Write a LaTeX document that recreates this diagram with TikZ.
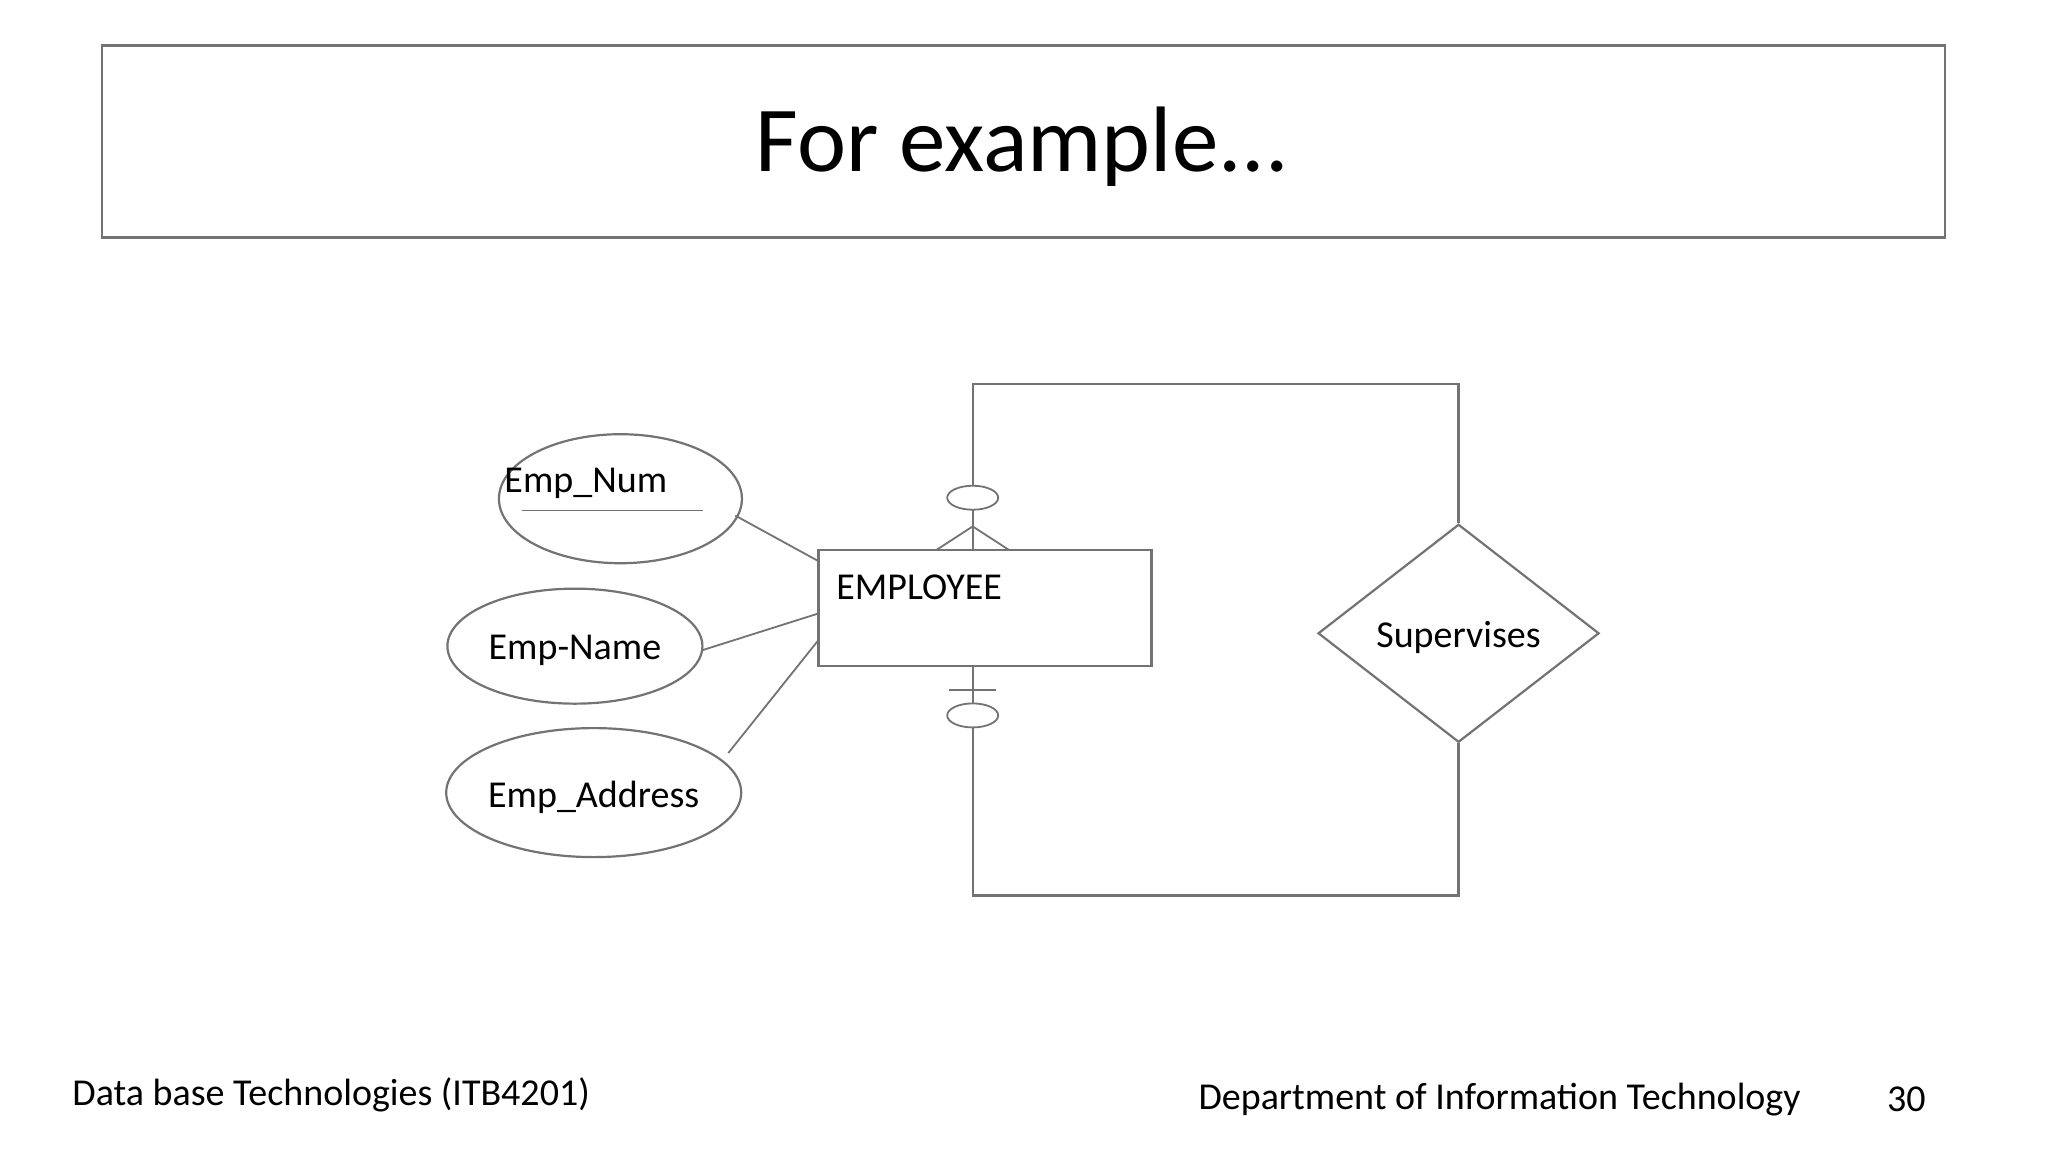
\documentclass[tikz,border=0pt]{standalone}
\usepackage{fontspec}
\setmainfont{Carlito}
\usetikzlibrary{shapes.geometric}
\begin{document}
\begin{tikzpicture}[x=0.9895pt,y=-0.9895pt,
  ln/.style={draw=black!55,line width=2.2pt},
  attr/.style={ln,ellipse,inner sep=0pt},
  lbl/.style={font=\fontsize{38}{44}\selectfont,inner sep=0pt}]
\useasboundingbox (0,0) rectangle (2069.7,1164.2);
\fill[white] (0,0) rectangle (2069.7,1164.2);
\node[ln,minimum width=1843pt,minimum height=192pt,inner sep=0pt] (title) at (1034.5,143) {};
\node[font=\fontsize{93}{108}\selectfont] (tt) at (1033,148) {For example...};
% attributes
\node[attr,minimum width=243pt,minimum height=129pt] (num) at (627,504) {};
\node[lbl] (numt) at (592,488) {Emp\_Num};
\coordinate (ul1) at (528,516); \coordinate (ul2) at (710,516);
\draw[ln,line width=1.8pt] (ul1) -- (ul2);
\node[attr,minimum width=255pt,minimum height=115pt] (name) at (581,653) {};
\node[lbl] (namet) at (581,657) {Emp-Name};
\node[attr,minimum width=295pt,minimum height=129pt] (addr) at (600,801) {};
\node[lbl] (addrt) at (600,806) {Emp\_Address};
% entity
\node[ln,minimum width=333pt,minimum height=116pt,inner sep=0pt] (emp) at (995.5,614.5) {};
\node[lbl,anchor=west] (empt) at (845,594) {EMPLOYEE};
% relationship
\node[ln,diamond,minimum width=281pt,minimum height=218pt,inner sep=0pt,aspect=1.3] (sup) at (1474,640) {};
\node[lbl] (supt) at (1474,644) {Supervises};
% attribute links
\coordinate (a1) at (743,521); \coordinate (b1) at (827,567);
\coordinate (a2) at (710,657); \coordinate (b2) at (827,620);
\coordinate (a3) at (736,761); \coordinate (b3) at (827,647);
\draw[ln,line width=1.8pt] (a1) -- (b1);
\draw[ln,line width=1.8pt] (a2) -- (b2);
\draw[ln,line width=1.8pt] (a3) -- (b3);
% recursive relationship
\coordinate (et) at (983,556); \coordinate (eb) at (983,673);
\draw[ln] (et) -- (983,388) -- (1474,388) -- (sup.north);
\draw[ln] (eb) -- (983,905) -- (1474,905) -- (sup.south);
% crow's foot (top)
\coordinate (cf) at (983,532);
\draw[ln,line width=1.8pt] (946,556) -- (cf) -- (1020,556);
\node[ln,line width=1.8pt,fill=white,ellipse,minimum width=51pt,minimum height=24pt,inner sep=0pt] (c1) at (983,503) {};
% bottom
\coordinate (bb1) at (959,697); \coordinate (bb2) at (1007,697);
\draw[ln,line width=1.8pt] (bb1) -- (bb2);
\node[ln,line width=1.8pt,fill=white,ellipse,minimum width=51pt,minimum height=24pt,inner sep=0pt] (c2) at (983,723) {};
% footer
\node[font=\fontsize{38}{44}\selectfont,anchor=west,inner sep=0pt] (f1) at (73,1106) {Data base Technologies (ITB4201)};
\node[font=\fontsize{38}{44}\selectfont,anchor=west,inner sep=0pt] (f2) at (1211,1111) {Department of Information Technology};
\node[font=\fontsize{38}{44}\selectfont,anchor=west,inner sep=0pt] (f3) at (1907,1111) {30};
\end{tikzpicture}
\end{document}
